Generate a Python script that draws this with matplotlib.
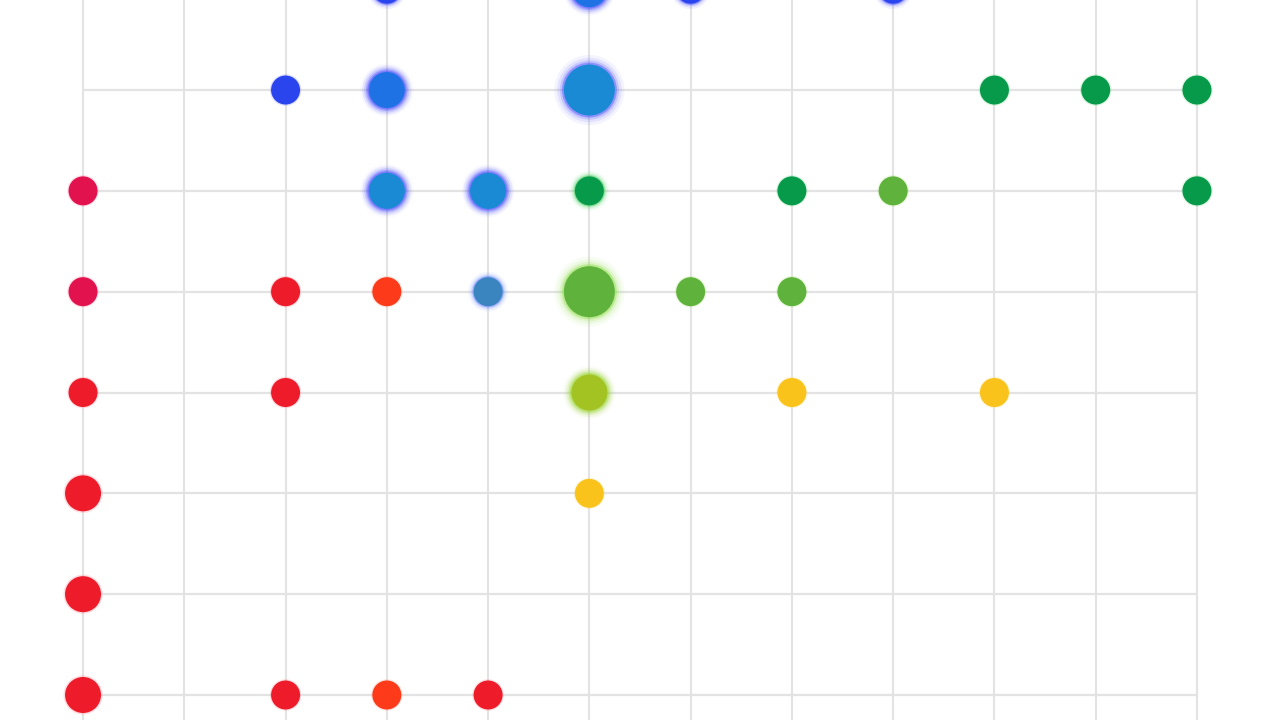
import numpy as np
import matplotlib
matplotlib.use("Agg")
import matplotlib.pyplot as plt

# grid of 12 columns x 8 rows, dots placed on the crossings
n_cols = 12
n_rows = 8

# each dot: column, row, colour group, size level, glow level
dot_col = [3, 5, 6, 8,
           2, 3, 5, 9, 10, 11,
           0, 3, 4, 5, 7, 8, 11,
           0, 2, 3, 4, 5, 6, 7,
           0, 2, 5, 7, 9,
           0, 5,
           0,
           0, 2, 3, 4]
dot_row = [0, 0, 0, 0,
           1, 1, 1, 1, 1, 1,
           2, 2, 2, 2, 2, 2, 2,
           3, 3, 3, 3, 3, 3, 3,
           4, 4, 4, 4, 4,
           5, 5,
           6,
           7, 7, 7, 7]
dot_group = ["indigo", "azure", "indigo", "indigo",
             "indigo", "azure", "sky", "green", "green", "green",
             "crimson", "sky", "sky", "green", "green", "leaf", "green",
             "crimson", "red", "orange", "steel", "leaf", "leaf", "leaf",
             "red", "red", "lime", "yellow", "yellow",
             "red", "yellow",
             "red",
             "red", "red", "orange", "red"]
dot_level = [1, 2, 1, 1,
             1, 2, 3, 1, 1, 1,
             1, 2, 2, 1, 1, 1, 1,
             1, 1, 1, 1, 3, 1, 1,
             1, 1, 2, 1, 1,
             2, 1,
             2,
             2, 1, 1, 1]
dot_glow = [1, 2, 1, 1,
            0, 2, 1, 0, 0, 0,
            0, 2, 2, 1, 0, 0, 0,
            0, 0, 0, 1, 1, 0, 0,
            0, 0, 2, 0, 0,
            0, 0,
            0,
            0, 0, 0, 0]

palette = {
    "indigo": "#2a45ee",
    "azure": "#1f72e4",
    "sky": "#1a8ad4",
    "steel": "#3a84bf",
    "green": "#079a4b",
    "leaf": "#5fb23b",
    "lime": "#a3c323",
    "yellow": "#f9c31c",
    "crimson": "#e2124f",
    "red": "#ee1b2b",
    "orange": "#fd3a1a",
}
halo = {
    "indigo": "#4a4cff", "azure": "#4a4cff", "sky": "#4a4cff", "steel": "#5a7cff",
    "green": "#3fcf5a", "leaf": "#8fdf4a", "lime": "#9fd83a", "yellow": "#ffd84a",
    "crimson": "#ff4a7a", "red": "#ff4a5a", "orange": "#ff6a4a",
}
diam_px = {1: 29, 2: 36, 3: 51}

fig = plt.figure(figsize=(12.8, 7.2), dpi=100)
ax = fig.add_axes([0, 0, 1, 1])
ax.set_xlim(-0.82, 11.82)
ax.set_ylim(7.248, 0.107)
ax.axis("off")

ax.hlines(np.arange(n_rows), 0, n_cols - 1, color="#e3e3e3", lw=1.6, zorder=1)
ax.vlines(np.arange(n_cols), -1, n_rows, color="#e3e3e3", lw=1.5, zorder=1)

cols = np.array(dot_col)
rows = np.array(dot_row)
sizes = np.array([(diam_px[l] * 0.72) ** 2 for l in dot_level])
colors = [palette[g] for g in dot_group]

# soft halo behind some dots
for g_lvl in (1, 2):
    idx = [i for i, g in enumerate(dot_glow) if g >= g_lvl]
    if not idx:
        continue
    for k, a in ((1.9, 0.06), (1.6, 0.10), (1.35, 0.18), (1.15, 0.3)):
        ax.scatter(cols[idx], rows[idx], s=sizes[idx] * k * (1 + 0.15 * (g_lvl - 1)),
                   marker="o", c=[halo[dot_group[i]] for i in idx],
                   alpha=a / g_lvl, linewidths=0, zorder=2)

# thin soft rim on all dots
ax.scatter(cols, rows, s=sizes * 1.18, marker="o",
           c=[halo[g] for g in dot_group], alpha=0.18, linewidths=0, zorder=3)
ax.scatter(cols, rows, s=sizes, marker="o", c=colors, linewidths=0, zorder=4)

fig.savefig("out.png", dpi=100, facecolor="white")
